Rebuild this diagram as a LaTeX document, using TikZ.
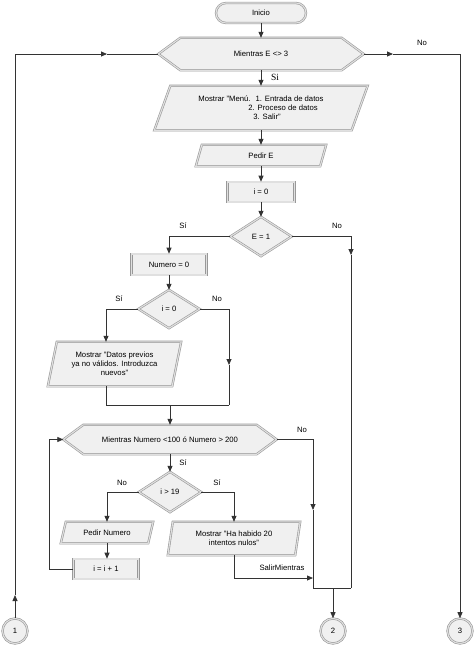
\documentclass[tikz,border=0pt]{standalone}
\usepackage{fontspec}
\setmainfont{Liberation Sans}
\newfontfamily\sifont{Liberation Serif}
\usetikzlibrary{arrows.meta,calc,backgrounds}
\begin{document}
\begin{tikzpicture}[x=1pt,y=-1pt,
  font=\fontsize{7.7}{9}\selectfont,
  shp/.style={draw=black!40, double=black!12, double distance=1.1pt, line width=0.6pt, fill=black!6},
  boxnode/.style={shp, inner sep=0pt, align=center},
  termnode/.style={shp, rounded corners=10pt, inner sep=0pt, align=center},
  txtnode/.style={inner sep=0pt, align=center},
  lbl/.style={inner sep=0pt},
  ln/.style={draw=black!80, line width=0.8pt},
  arr/.style={ln, -{Triangle[length=6pt,width=5pt]}},
  connode/.style={shp, circle, minimum size=25pt, inner sep=0pt}
]
\useasboundingbox (0,0) rectangle (474,646);

% nodes
\node[termnode, minimum width=90pt, minimum height=20pt] (inicio) at (261,13) {Inicio};
\node[txtnode, minimum width=205pt, minimum height=32pt] (m1) at (261,54) {Mientras E <> 3};
\node[txtnode, minimum width=213pt, minimum height=44pt, align=left] (menu) at (261,108)
  {Mostrar "Menú.~ 1. Entrada de datos\\\hspace*{50pt}2. Proceso de datos\\\hspace*{55pt}3. Salir"};
\node[txtnode, minimum width=130pt, minimum height=21pt] (pedir) at (261,155.5) {Pedir E};
\node[boxnode, minimum width=67pt, minimum height=20pt] (i0) at (261,192) {i = 0};
\node[txtnode, minimum width=61pt, minimum height=39pt] (e1) at (261,236.5) {E = 1};
\node[boxnode, minimum width=75pt, minimum height=21pt] (num0) at (169,264.5) {Numero = 0};
\node[txtnode, minimum width=61pt, minimum height=38pt] (ieq0) at (169,309) {i = 0};
\node[txtnode, minimum width=133pt, minimum height=44pt] (datos) at (114.5,364)
  {Mostrar "Datos previos\\ya no válidos. Introduzca\\nuevos"};
\node[txtnode, minimum width=213pt, minimum height=29pt] (m2) at (170,439.5) {Mientras Numero <100 ó Numero > 200};
\node[txtnode, minimum width=62pt, minimum height=40pt] (i19) at (170,492) {i > 19};
\node[txtnode, minimum width=92pt, minimum height=21pt] (pnum) at (107,532.5) {Pedir Numero};
\node[boxnode, minimum width=65pt, minimum height=20pt] (inc) at (106,569) {i = i + 1};
\node[txtnode, minimum width=132pt, minimum height=33pt] (ha) at (234,538.5) {Mostrar "Ha habido 20\\intentos nulos"};
\node[connode] (c1) at (15,631) {1};
\node[connode] (c2) at (333,631) {2};
\node[connode] (c3) at (460,631) {3};

% shapes drawn behind the texts
\begin{pgfonlayer}{background}
\draw[shp] (m1.west) -- ($(m1.north west)+(22,0)$) -- ($(m1.north east)+(-22,0)$) -- (m1.east)
  -- ($(m1.south east)+(-22,0)$) -- ($(m1.south west)+(22,0)$) -- cycle;
\draw[shp] ($(menu.north west)+(16,0)$) -- (menu.north east) -- ($(menu.south east)+(-16,0)$) -- (menu.south west) -- cycle;
\draw[shp] ($(pedir.north west)+(6,0)$) -- (pedir.north east) -- ($(pedir.south east)+(-6,0)$) -- (pedir.south west) -- cycle;
\draw[shp] (e1.west) -- (e1.north) -- (e1.east) -- (e1.south) -- cycle;
\draw[shp] (ieq0.west) -- (ieq0.north) -- (ieq0.east) -- (ieq0.south) -- cycle;
\draw[shp] ($(datos.north west)+(9,0)$) -- (datos.north east) -- ($(datos.south east)+(-9,0)$) -- (datos.south west) -- cycle;
\draw[shp] (m2.west) -- ($(m2.north west)+(20,0)$) -- ($(m2.north east)+(-20,0)$) -- (m2.east)
  -- ($(m2.south east)+(-20,0)$) -- ($(m2.south west)+(20,0)$) -- cycle;
\draw[shp] (i19.west) -- (i19.north) -- (i19.east) -- (i19.south) -- cycle;
\draw[shp] ($(pnum.north west)+(5,0)$) -- (pnum.north east) -- ($(pnum.south east)+(-5,0)$) -- (pnum.south west) -- cycle;
\draw[shp] ($(ha.north west)+(5,0)$) -- (ha.north east) -- ($(ha.south east)+(-5,0)$) -- (ha.south west) -- cycle;
\end{pgfonlayer}

% helper coordinates
\coordinate (dsi) at (106,309);
\coordinate (jA) at (229,405);
\coordinate (jC) at (313,588);
\coordinate (jD) at (351,588);
\coordinate (sx) at (313,578);
\coordinate (lx) at (49,569);
\coordinate (ma1) at (15,595);
\coordinate (ma2) at (107,54);
\coordinate (ma3) at (393,54);
\coordinate (ma4) at (351,255);
\coordinate (ma5) at (229,365);
\coordinate (ma6) at (313,510);

% connectors
\draw[arr] (inicio.south) -- (m1.north);
\draw[arr] (m1.south) -- (menu.north);
\draw[arr] (menu.south) -- (pedir.north);
\draw[arr] (pedir.south) -- (i0.north);
\draw[arr] (i0.south) -- (e1.north);
\draw[arr] (e1.west) -| (num0.north);
\draw[arr] (e1.east) -| (ma4);
\draw[ln] (ma4) -- (jD);
\draw[arr] (num0.south) -- (ieq0.north);
\draw[arr] (ieq0.west) -- (dsi) -- (dsi |- datos.north);
\draw[arr] (ieq0.east) -| (ma5);
\draw[ln] (ma5) -- (jA);
\draw[ln] (dsi |- datos.south) -- (dsi |- jA) -- (jA);
\draw[arr] (m2.north |- jA) -- (m2.north);
\draw[arr] (m2.east) -| (ma6);
\draw[ln] (ma6) -- (jC);
\draw[arr] (m2.south) -- (i19.north);
\draw[arr] (i19.west) -| (pnum.north);
\draw[arr] (i19.east) -| (ha.north);
\draw[arr] (pnum.south) -- (pnum.south |- inc.north);
\draw[arr] (inc.west) -- (lx) -- (lx |- m2.west) -- (m2.west);
\draw[arr] (ha.south) -- (ha.south |- sx) -- (sx);
\draw[ln] (jC) -- (jD);
\draw[arr] (c2.north |- jC) -- (c2.north);
% outer loop
\draw[arr] (c1.north) -- (ma1);
\draw[arr] (ma1) -- (ma1 |- m1.west) -- (ma2);
\draw[ln] (ma2) -- (m1.west);
\draw[arr] (m1.east) -- (ma3);
\draw[arr] (ma3) -| (c3.north);

% labels
\node[lbl, font=\sifont\fontsize{9.5}{10}\selectfont] (lsi0) at (275,77) {Si};
\node[lbl] (lno0) at (422,43) {No};
\node[lbl] (lsi1) at (183,226) {Sí};
\node[lbl] (lno1) at (337,226) {No};
\node[lbl] (lsi2) at (119,299) {Sí};
\node[lbl] (lno2) at (217,299) {No};
\node[lbl] (lno3) at (302,430) {No};
\node[lbl] (lsi3) at (183,463) {Sí};
\node[lbl] (lno4) at (122,483) {No};
\node[lbl] (lsi4) at (217,483) {Sí};
\node[lbl] (lsal) at (282,568) {SalirMientras};
\end{tikzpicture}
\end{document}
